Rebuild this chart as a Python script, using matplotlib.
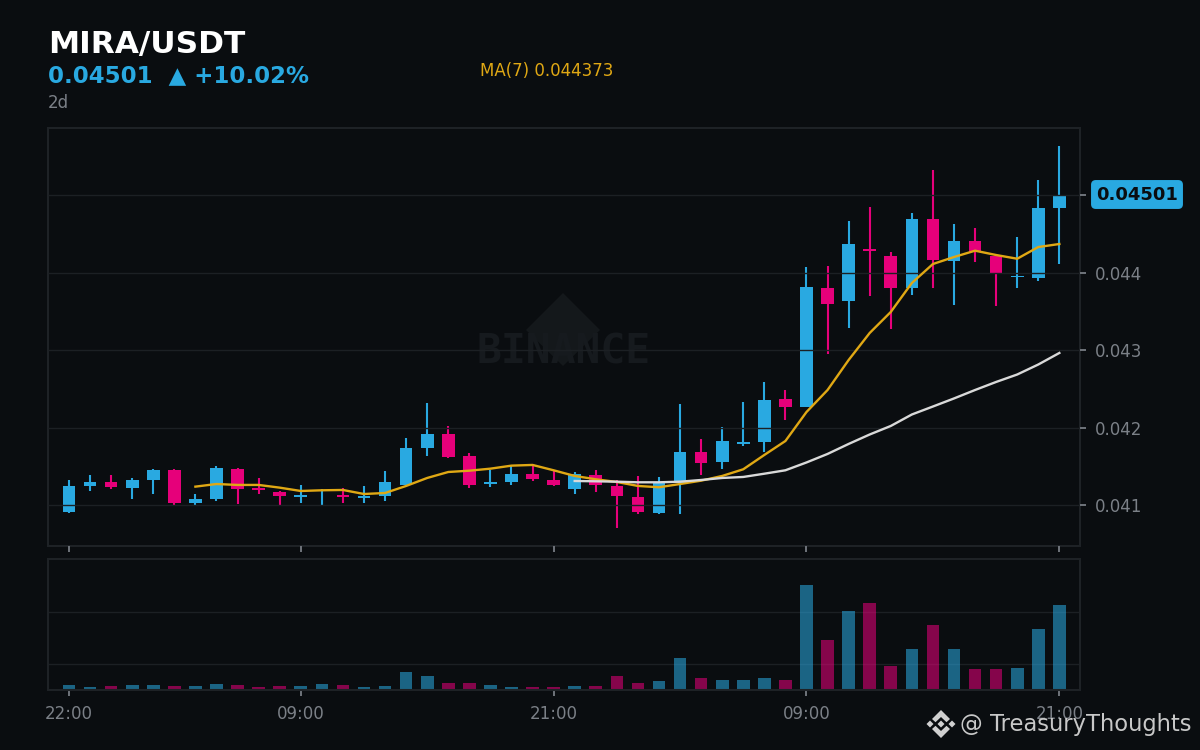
import matplotlib
matplotlib.use("Agg")
import matplotlib.pyplot as plt
from matplotlib.patches import Polygon, FancyBboxPatch

# Prices are in units of 0.001 USDT
opens = [40.916, 41.252, 41.303, 41.226, 41.329, 41.458, 41.032, 41.084, 41.471, 41.213, 41.174, 41.112,
         41.213, 41.135, 41.097, 41.123, 41.265, 41.742, 41.923, 41.639, 41.283, 41.303, 41.406, 41.329,
         41.213, 41.394, 41.252, 41.110, 40.903, 41.290, 41.690, 41.561, 41.794, 41.819, 42.374, 42.271,
         43.806, 43.639, 44.297, 44.219, 43.806, 44.697, 44.155, 44.413, 44.219, 43.944, 43.935, 44.839]
closes = [41.252, 41.303, 41.239, 41.329, 41.458, 41.032, 41.084, 41.484, 41.213, 41.205, 41.123, 41.120,
          41.213, 41.110, 41.123, 41.303, 41.742, 41.923, 41.626, 41.265, 41.290, 41.406, 41.342, 41.265,
          41.406, 41.265, 41.123, 40.916, 41.290, 41.690, 41.548, 41.832, 41.819, 42.361, 42.271, 43.819,
          43.600, 44.374, 44.289, 43.806, 44.697, 44.168, 44.413, 44.271, 44.000, 43.952, 44.839, 45.010]
highs = [41.329, 41.394, 41.394, 41.355, 41.471, 41.471, 41.148, 41.510, 41.484, 41.355, 41.187, 41.265,
         41.213, 41.226, 41.252, 41.445, 41.871, 42.323, 42.026, 41.677, 41.458, 41.510, 41.535, 41.458,
         41.432, 41.458, 41.329, 41.381, 41.368, 42.310, 41.858, 42.013, 42.335, 42.594, 42.490, 44.077,
         44.090, 44.671, 44.852, 44.271, 44.774, 45.329, 44.632, 44.581, 44.232, 44.465, 45.200, 45.639]
lows = [40.903, 41.187, 41.213, 41.084, 41.148, 41.006, 40.994, 41.058, 41.019, 41.148, 40.994, 41.032,
        40.994, 41.032, 41.032, 41.058, 41.265, 41.639, 41.613, 41.226, 41.239, 41.265, 41.316, 41.252,
        41.148, 41.174, 40.710, 40.890, 40.890, 40.890, 41.394, 41.471, 41.768, 41.690, 42.103, 42.271,
        42.955, 43.290, 43.703, 43.277, 43.716, 43.806, 43.587, 44.142, 43.574, 43.806, 43.897, 44.116]
volumes = [.19, .12, .15, .19, .19, .15, .15, .23, .19, .12, .15, .17,
           .23, .19, .12, .15, .69, .54, .27, .27, .19, .12, .12, .12,
           .15, .15, .54, .27, .35, 1.23, .46, .38, .38, .46, .38, 4.04,
           1.92, 3.04, 3.35, .92, 1.58, 2.5, 1.58, .81, .81, .85, 2.35, 3.27]
ma7 = [41.243, 41.277, 41.265, 41.265, 41.230, 41.187, 41.196, 41.200, 41.148, 41.161, 41.252, 41.355,
       41.432, 41.449, 41.475, 41.514, 41.523, 41.454, 41.381, 41.338, 41.303, 41.252, 41.235, 41.277,
       41.320, 41.381, 41.467, 41.652, 41.832, 42.206, 42.490, 42.877, 43.226, 43.497, 43.871, 44.116,
       44.206, 44.288, 44.232, 44.184, 44.335, 44.374]
ma25 = [41.316, 41.312, 41.307, 41.299, 41.299, 41.307, 41.329, 41.355, 41.368, 41.410, 41.454, 41.555,
        41.665, 41.794, 41.916, 42.026, 42.174, 42.277, 42.381, 42.490, 42.594, 42.690, 42.819, 42.968]
time_ticks = [0, 11, 23, 35, 47]
time_labels = ["22:00", "09:00", "21:00", "09:00", "21:00"]
price_ticks = [41, 42, 43, 44, 45]
price_labels = ["0.041", "0.042", "0.043", "0.044", "0.045"]
volume_grid = [1, 3]

BG = "#0a0d10"
BLUE = "#29a9e1"
PINK = "#e6007a"
GOLD = "#e0a814"
SPINE = "#1e2226"
GRID = "#1c2024"
TICK = "#6f747b"
LABEL = "#7b8087"

W, H = 1200, 750
def P(x, y):
    return (x / W, 1 - y / H)

fig = plt.figure(figsize=(12, 7.5), dpi=100, facecolor=BG)
ax = fig.add_axes([48 / W, 1 - 546 / H, 1032 / W, 418 / H], facecolor=BG)
vax = fig.add_axes([48 / W, 1 - 690 / H, 1032 / W, 131 / H], facecolor=BG)

xs = list(range(len(opens)))
colors = [BLUE if c >= o else PINK for o, c in zip(opens, closes)]

# Watermark
ax.add_patch(Polygon([P(563, 293), P(600, 330), P(563, 366), P(526, 330)], closed=True,
                     transform=fig.transFigure, fc="#14181b", ec="none", zorder=0.5))
ax.text(*P(563.5, 352), "BINANCE", transform=fig.transFigure, family="DejaVu Sans Mono", weight="bold",
        fontsize=29.8, color="#161a1e", ha="center", va="center", zorder=0.6)

# Candles
ax.vlines(xs, lows, highs, colors=colors, linewidth=1.5, zorder=2)
bottoms = [min(o, c) for o, c in zip(opens, closes)]
heights = [max(abs(c - o), 0.018) if c != o else 0 for o, c in zip(opens, closes)]
ax.bar(xs, heights, bottom=bottoms, width=0.6, color=colors, linewidth=0, zorder=2)
ax.plot(xs[6:], ma7, color=GOLD, lw=1.7, zorder=4)
ax.plot(xs[24:], ma25, color="#d9d9d9", lw=1.7, zorder=4)

XMIN, XMAX = -0.995, 47.98
ax.set_xlim(XMIN, XMAX)
ax.set_ylim(40.477, 45.871)
ax.yaxis.tick_right()
ax.set_yticks(price_ticks)
ax.set_yticklabels(price_labels)
ax.set_xticks(time_ticks)
ax.set_xticklabels([])
ax.grid(axis="y", color=GRID, lw=1.0, zorder=3)
ax.set_axisbelow(False)
ax.tick_params(axis="y", colors=TICK, labelcolor=LABEL, labelsize=12, length=4.5, width=1.4, pad=6.5)
ax.tick_params(axis="x", colors=TICK, length=4.5, width=1.4)

# Volume
vax.bar(xs, volumes, width=0.6, color=colors, alpha=0.56, linewidth=0, zorder=2)
vax.set_xlim(XMIN, XMAX)
vax.set_ylim(0, 5.04)
vax.set_yticks(volume_grid)
vax.set_xticks(time_ticks)
vax.set_xticklabels(time_labels)
vax.grid(axis="y", color=GRID, lw=1.0, zorder=1)
vax.set_axisbelow(True)
vax.tick_params(axis="y", left=False, labelleft=False)
vax.tick_params(axis="x", colors=TICK, labelcolor=LABEL, labelsize=12, length=4.5, width=1.4, pad=6)

for a in (ax, vax):
    for s in a.spines.values():
        s.set_color(SPINE)
        s.set_linewidth(1.5)

# Header
fig.text(*P(48, 44), "MIRA/USDT", color="white", fontsize=22.5, weight="bold", va="center")
fig.text(*P(48, 76), "0.04501  \u25b2 +10.02%", color=BLUE, fontsize=16.5, weight="bold", va="center")
fig.text(*P(48, 102.5), "2d", color=LABEL, fontsize=12, va="center")
fig.text(*P(480, 71), "MA(7) 0.044373", color=GOLD, fontsize=12, va="center")

# Last price badge
fig.add_artist(FancyBboxPatch(P(1095, 205), 84 / W, 21 / H, boxstyle="round,pad=0.0033,rounding_size=0.004",
                              transform=fig.transFigure, fc=BLUE, ec="none", mutation_aspect=W / H, zorder=5))
fig.text(*P(1137.5, 194.5), "0.04501", color="#0a0d10", fontsize=13, weight="bold", ha="center", va="center", zorder=6)

# Footer logo and handle
LOGO = "#d0d0d0"
cx, cy = 941, 724
def rel(points):
    return [P(cx + dx, cy + dy) for dx, dy in points]
shapes = [
    [(0, -3.5), (3.5, 0), (0, 3.5), (-3.5, 0)],
    [(-11, -3.5), (-7.5, 0), (-11, 3.5), (-14.5, 0)],
    [(11, -3.5), (14.5, 0), (11, 3.5), (7.5, 0)],
    [(0, -14), (9, -5), (5.5, -1.8), (0, -7), (-5.5, -1.8), (-9, -5)],
    [(0, 14), (9, 5), (5.5, 1.8), (0, 7), (-5.5, 1.8), (-9, 5)],
]
for s in shapes:
    fig.add_artist(Polygon(rel(s), closed=True, transform=fig.transFigure, fc=LOGO, ec="none", zorder=7))
fig.text(*P(1191.5, 725), "@ TreasuryThoughts", color="#c8c8c8", fontsize=16.3, ha="right", va="center", zorder=7)

fig.savefig("out.png", dpi=100, facecolor=BG)
